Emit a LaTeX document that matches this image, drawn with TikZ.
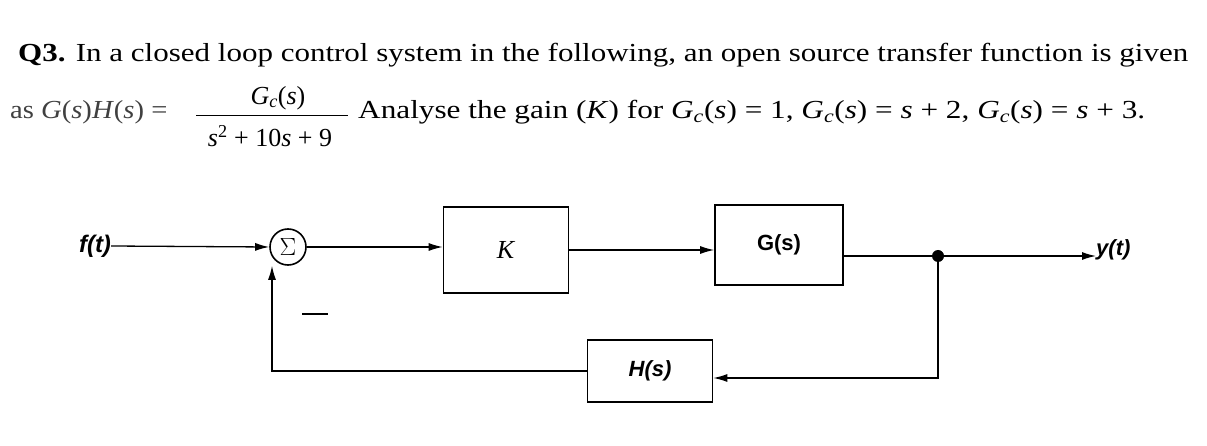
\documentclass[tikz,border=0pt]{standalone}
\usepackage{fontspec}
\setmainfont{Liberation Serif}
\newfontfamily\sansf{Liberation Sans}
\usetikzlibrary{arrows.meta}
\newcommand{\vi}[1]{\textit{#1}}
\begin{document}
\begin{tikzpicture}[x=1pt,y=-1pt,
  blk/.style={draw,line width=1.6pt,inner sep=0pt},
  wire/.style={line width=1.3pt},
  arr/.style={wire,-{Latex[length=14pt,width=8pt]}},
  txt/.style={font=\fontsize{26}{28}\selectfont,inner sep=0pt}]
\useasboundingbox (0,0) rectangle (1207,446);
\node[txt,anchor=west] (l1) at (18,55) {\resizebox{1170pt}{\height}{\textbf{Q3.} In a closed loop control system in the following, an open source transfer function is given}};
\node[txt,anchor=west,text=black!75] (l2a) at (10,112) {\scalebox{1.1}[1]{as \vi{G}(\vi{s})\vi{H}(\vi{s}) =}};
\node[txt] (num) at (278,98) {\vi{G}\textsubscript{\vi{c}}(\vi{s})};
\node[txt] (den) at (270,136) {\vi{s}\textsuperscript{2} + 10\vi{s} + 9};
\draw[line width=1pt] (196,116) -- (348,116);
\node[txt,anchor=west] (l2b) at (358,112) {\resizebox{787pt}{\height}{Analyse the gain (\vi{K}) for \vi{G}\textsubscript{\vi{c}}(\vi{s}) = 1, \vi{G}\textsubscript{\vi{c}}(\vi{s}) = \vi{s} + 2, \vi{G}\textsubscript{\vi{c}}(\vi{s}) = \vi{s} + 3.}};

\node[txt,font=\sansf\bfseries\itshape\fontsize{24}{28}\selectfont] (f) at (95,246) {f(t)};
\node[draw,circle,line width=1.6pt,minimum size=36pt,inner sep=0pt] (sum) at (288,247) {\fontsize{26}{28}\selectfont$\Sigma$};
\node[blk,minimum width=125pt,minimum height=86pt] (K) at (506,250) {\fontsize{26}{28}\selectfont\vi{K}};
\node[blk,minimum width=128pt,minimum height=80pt] (G) at (779,245) {\sansf\bfseries\fontsize{22}{26}\selectfont G(s)};
\node[blk,minimum width=125pt,minimum height=62pt] (H) at (650,371) {\sansf\bfseries\itshape\fontsize{22}{26}\selectfont H(s)};
\node[anchor=west,inner sep=0pt,font=\sansf\bfseries\itshape\fontsize{22}{26}\selectfont] (y) at (1096,250) {y(t)};
\coordinate (j) at (938,256);
\fill (j) circle (6pt);
\draw[arr] (f.east) -- (sum.west);
\draw[arr] (sum.east) -- (K.west|-sum.east);
\draw[arr] (K.east) -- (G.west|-K.east);
\draw[wire] (G.east|-j) -- (j);
\draw[arr] (j) -- (y.west|-j);
\draw[arr] (j) -- (938,378) -- (H.east|-0,378);
\draw[arr] (H.west) -- (272,371) -- (sum.south-|272,0);
\draw[wire] (302,314) -- (328,314);
\end{tikzpicture}
\end{document}
